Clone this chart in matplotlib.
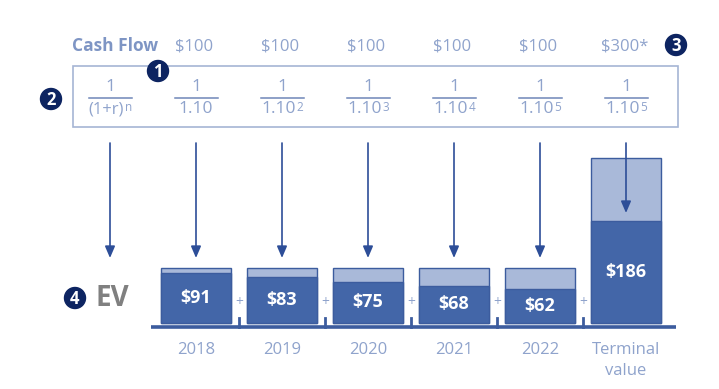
import matplotlib
matplotlib.use("Agg")
import matplotlib.pyplot as plt
import matplotlib.transforms as mtransforms
from matplotlib.patches import Rectangle, Circle

# ---------------- data ----------------
categories = ['2018', '2019', '2020', '2021', '2022', 'Terminal\nvalue']
cash_flows = [100, 100, 100, 100, 100, 300]
cash_labels = ['$100', '$100', '$100', '$100', '$100', '$300*']
present_values = [91, 83, 75, 68, 62, 186]
discount_bases = ['(1+r)', '1.10', '1.10', '1.10', '1.10', '1.10', '1.10']
discount_exponents = ['n', '', '2', '3', '4', '5', '5']

# ---------------- style ----------------
plt.rcParams['font.family'] = ['Open Sans', 'DejaVu Sans']

DARK = '#4366a8'
LIGHT = '#a9b9d9'
EDGE = '#3c5c9e'
TXT = '#8fa3cc'
ARROW = '#2d4e98'
NAVY = '#0d2461'
BOXC = '#a6b5d4'

W, H = 719, 389
fig = plt.figure(figsize=(W / 100, H / 100), dpi=100)

# bars axes: category index on x, value on y (0.55 px per unit, baseline at px 323)
ax_b = fig.add_axes([0, 0, 1, 1])
px_per_cat = 86.0
x0_px = 196.0
ax_b.set_xlim((0 - x0_px) / px_per_cat, (W - x0_px) / px_per_cat)
scale = 0.55
base_px = 323.0
ax_b.set_ylim((base_px - H) / scale, base_px / scale)
ax_b.axis('off')

# overlay axes in pixel coordinates
ax_o = fig.add_axes([0, 0, 1, 1])
ax_o.set_xlim(0, W)
ax_o.set_ylim(H, 0)
ax_o.axis('off')
ax_o.patch.set_alpha(0)

mix = mtransforms.blended_transform_factory(ax_b.transData, ax_o.transData)
renderer = fig.canvas.get_renderer()

idx = list(range(len(categories)))
bw = 0.81

# stacked bars: light (cash flow) behind, dark (present value) in front
ax_b.bar(idx, cash_flows, width=bw, color=LIGHT, edgecolor=EDGE, linewidth=1.0, zorder=1)
ax_b.bar(idx, present_values, width=bw, color=DARK, edgecolor=EDGE, linewidth=1.0, zorder=2)
for i, pv in zip(idx, present_values):
    ax_b.text(i, pv / 2, '\\$' + str(pv), color='white', fontsize=13, fontweight='bold',
              ha='center', va='center', zorder=3)

# baseline and separator ticks
ax_o.plot([151, 676], [327, 327], color=EDGE, lw=2.6, solid_capstyle='butt', zorder=4)
for i in idx[:-1]:
    ax_o.plot([i + 0.5, i + 0.5], [327, 318], color=EDGE, lw=2.0, transform=mix, zorder=4)
    ax_o.text(i + 0.5, 302, '+', color=TXT, fontsize=10, ha='center', va='center', transform=mix)

# category labels
for i, c in zip(idx, categories):
    ax_o.text(i, 342, c, color=TXT, fontsize=12, ha='center', va='top',
              linespacing=1.45, transform=mix)

# cash flow row
ax_o.text(115, 46, 'Cash Flow', color='#7e95c4', fontsize=12.5, fontweight='bold',
          ha='center', va='center')
for i, lab in zip(idx, cash_labels):
    ax_o.text(i - 0.02, 46, lab.replace('$', '\\$'), color=TXT, fontsize=12,
              ha='center', va='center', transform=mix)

# discount factor box
ax_o.add_patch(Rectangle((73, 66), 605, 61, fill=False, edgecolor=BOXC, lw=1.2, zorder=2))
for j, (b, e) in enumerate(zip(discount_bases, discount_exponents)):
    xi = j - 1
    ax_o.text(xi, 87, '1', color=TXT, fontsize=12.5, ha='center', va='center', transform=mix)
    ax_o.plot([xi - 0.25, xi + 0.25], [97.5, 97.5], color='#6f86b8', lw=1.1, transform=mix)
    fs_base = 12.5 if j > 0 else 12
    tb = ax_o.text(0, 0, b, fontsize=fs_base)
    bw_px = tb.get_window_extent(renderer).width
    tb.remove()
    if e:
        te = ax_o.text(0, 0, e, fontsize=8.5)
        ew_px = te.get_window_extent(renderer).width
        te.remove()
    else:
        ew_px = 0
    total = bw_px + ew_px
    left_px = x0_px + xi * px_per_cat - total / 2
    ax_o.text(left_px, 109, b, color=TXT, fontsize=fs_base, ha='left', va='center')
    if e:
        ax_o.text(left_px + bw_px + 0.5, 101, e, color=TXT, fontsize=8.5, ha='left', va='top')

# arrows
arrow_tips = [258] * 6 + [213]
for j, tip in enumerate(arrow_tips):
    xi = j - 1
    ax_o.annotate('', xy=(xi, tip), xytext=(xi, 143), xycoords=mix, textcoords=mix,
                  arrowprops=dict(arrowstyle='-|>,head_length=0.7,head_width=0.3',
                                  color=ARROW, lw=1.2, shrinkA=0, shrinkB=0), zorder=5)

# EV label
ax_o.text(95, 299, 'EV', color='#808080', fontsize=20, fontweight='bold', ha='left', va='center')


# numbered badges
def badge(x, y, n):
    ax_o.add_patch(Circle((x, y), 10.5, color=NAVY, zorder=6))
    ax_o.text(x, y + 0.5, str(n), color='white', fontsize=12, fontweight='bold',
              ha='center', va='center', zorder=7)


badge(158, 71, 1)
badge(51, 99, 2)
badge(676, 45, 3)
badge(75, 298, 4)

fig.savefig('out.png', dpi=100)
